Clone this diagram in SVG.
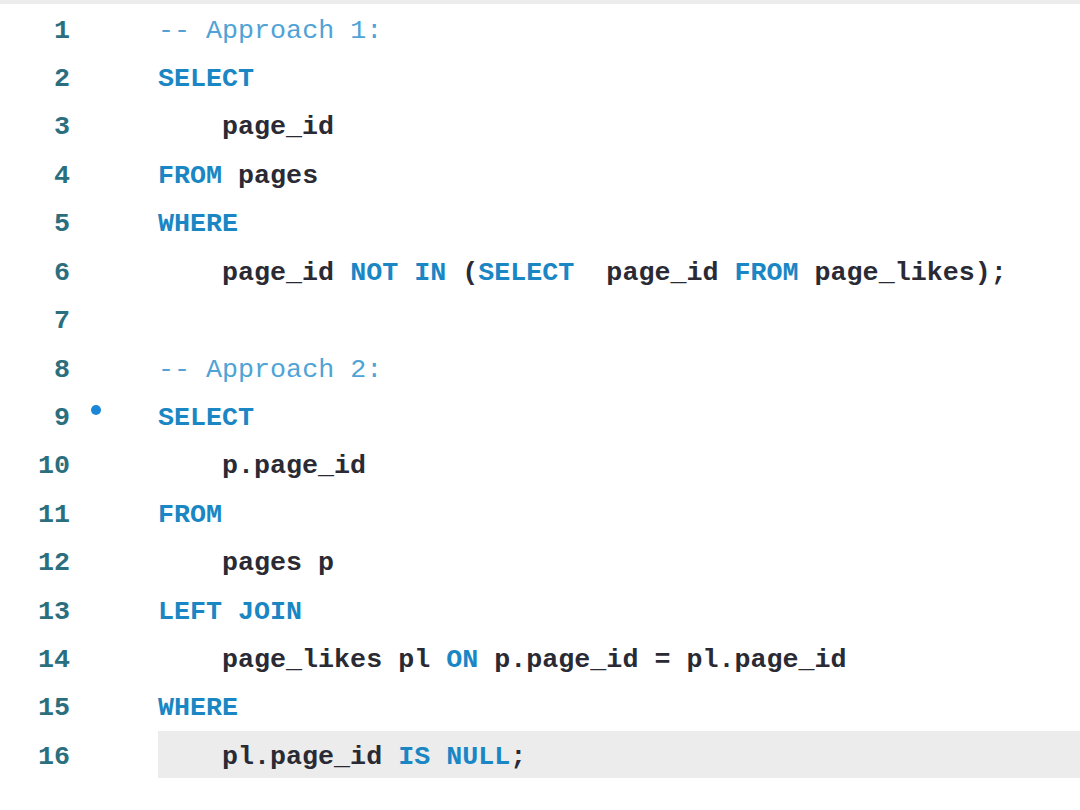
<svg xmlns="http://www.w3.org/2000/svg" width="1080" height="810" viewBox="0 0 1080 810">
<style>
text{font-family:"Liberation Mono","DejaVu Sans Mono",monospace;font-size:26.7px;font-weight:bold;white-space:pre}
.n{fill:#2b6f7f;text-anchor:end}
.k{fill:#1a86c4}
.c{fill:#4fa3d6;font-weight:normal}
.t{fill:#2a2a35}
</style>
<rect width="1080" height="810" fill="#fff"/>
<rect width="1080" height="4" fill="#ececec"/>
<rect x="158" y="731" width="922" height="47" fill="#ececec"/>
<circle cx="96" cy="410" r="5" fill="#1a86d8"/>
<g id="nums">
<text class="n" x="70" y="38">1</text>
<text class="n" x="70" y="86">2</text>
<text class="n" x="70" y="134">3</text>
<text class="n" x="70" y="183">4</text>
<text class="n" x="70" y="231">5</text>
<text class="n" x="70" y="280">6</text>
<text class="n" x="70" y="328">7</text>
<text class="n" x="70" y="377">8</text>
<text class="n" x="70" y="425">9</text>
<text class="n" x="70" y="473">10</text>
<text class="n" x="70" y="522">11</text>
<text class="n" x="70" y="570">12</text>
<text class="n" x="70" y="619">13</text>
<text class="n" x="70" y="667">14</text>
<text class="n" x="70" y="715">15</text>
<text class="n" x="70" y="764">16</text>
</g>
<g id="code">
<text x="158" y="38" class="c">-- Approach 1:</text>
<text x="158" y="86" class="k">SELECT</text>
<text x="222" y="134" class="t">page_id</text>
<text x="158" y="183"><tspan class="k">FROM</tspan><tspan class="t"> pages</tspan></text>
<text x="158" y="231" class="k">WHERE</text>
<text x="222" y="280"><tspan class="t">page_id </tspan><tspan class="k">NOT IN</tspan><tspan class="t"> (</tspan><tspan class="k">SELECT</tspan><tspan class="t">  page_id </tspan><tspan class="k">FROM</tspan><tspan class="t"> page_likes);</tspan></text>
<text x="158" y="377" class="c">-- Approach 2:</text>
<text x="158" y="425" class="k">SELECT</text>
<text x="222" y="473" class="t">p.page_id</text>
<text x="158" y="522" class="k">FROM</text>
<text x="222" y="570" class="t">pages p</text>
<text x="158" y="619" class="k">LEFT JOIN</text>
<text x="222" y="667"><tspan class="t">page_likes pl </tspan><tspan class="k">ON</tspan><tspan class="t"> p.page_id = pl.page_id</tspan></text>
<text x="158" y="715" class="k">WHERE</text>
<text x="222" y="764"><tspan class="t">pl.page_id </tspan><tspan class="k">IS NULL</tspan><tspan class="t">;</tspan></text>
</g>
</svg>
